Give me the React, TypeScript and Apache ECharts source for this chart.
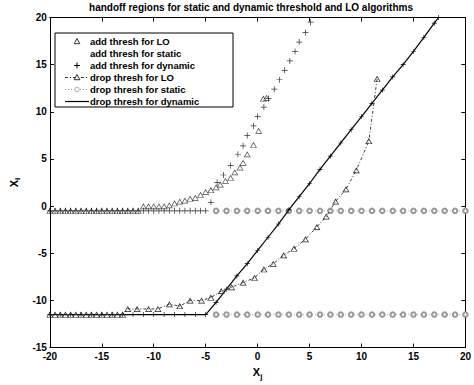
import React, { useEffect, useRef } from "react";
import * as echarts from "echarts";

const TITLE = "handoff regions for static and dynamic threshold and LO algorithms";
const X_TICKS = [-20, -15, -10, -5, 0, 5, 10, 15, 20];
const Y_TICKS = [-15, -10, -5, 0, 5, 10, 15, 20];
const LEGEND_LABELS = [
  "add thresh for LO",
  "add thresh for static",
  "add thresh for dynamic",
  "drop thresh for LO",
  "drop thresh for static",
  "drop thresh for dynamic",
];

const addLO: number[][] = [
  [-20, -0.5], [-19.5, -0.5], [-19, -0.5], [-18.5, -0.5], [-18, -0.5], [-17.5, -0.5],
  [-17, -0.5], [-16.5, -0.5], [-16, -0.5], [-15.5, -0.5], [-15, -0.5], [-14.5, -0.5],
  [-14, -0.5], [-13.5, -0.5], [-13, -0.5], [-12.5, -0.5], [-12, -0.5], [-11.5, -0.5],
  [-11, 0], [-10.5, 0], [-10, 0], [-9.5, 0], [-9, 0], [-8.5, 0.1], [-8, 0.3],
  [-7.5, 0.5], [-7, 0.6], [-6.5, 0.8], [-6, 0.9], [-5.5, 1.2], [-5, 1.5], [-4.5, 1.7],
  [-4, 2.0], [-3.6, 2.3], [-3.1, 2.7], [-2.6, 3.0], [-2.2, 3.6], [-1.7, 4.1],
  [-1.4, 4.6], [-1, 5.5], [-0.4, 6.5], [0.1, 8.0], [0.55, 11.4], [0.85, 11.5],
];

const addDynamic: number[][] = [
  [-20, -0.5], [-19.5, -0.5], [-19, -0.5], [-18.5, -0.5], [-18, -0.5], [-17.5, -0.5],
  [-17, -0.5], [-16.5, -0.5], [-16, -0.5], [-15.5, -0.5], [-15, -0.5], [-14.5, -0.5],
  [-14, -0.5], [-13.5, -0.5], [-13, -0.5], [-12.5, -0.5], [-12, -0.5], [-11.5, -0.5],
  [-11, -0.5], [-10.5, -0.5], [-10, -0.5], [-9.5, -0.5], [-9, -0.5], [-8.5, -0.5],
  [-8, -0.5], [-7.5, -0.5], [-7, -0.5], [-6.5, -0.5], [-6, -0.5], [-5.5, -0.5], [-5, -0.5],
  [-4.5, 0.4], [-3.9, 2.5], [-3.3, 3.3], [-2.6, 4.3], [-1.9, 5.5], [-1.4, 6.4],
  [-1, 7.5], [-0.4, 8.5], [0, 9.5], [0.6, 10.5], [1.05, 11.4], [1.6, 12.4], [2.1, 13.4],
  [2.6, 14.4], [3.1, 15.4], [3.6, 16.4], [4.0, 17.4], [4.6, 18.4], [5.1, 19.5],
];

const staticX = [-4, -3, -2, -1, 0, 1, 2, 3, 4, 5, 6, 7, 8, 9, 10, 11, 12, 13, 14, 15, 16, 17, 18, 19, 20];
const addStaticY = [-0.5, -0.5, -0.5, -0.5, -0.5, -0.5, -0.5, -0.5, -0.5, -0.5, -0.5, -0.5, -0.5, -0.5, -0.5, -0.5, -0.5, -0.5, -0.5, -0.5, -0.5, -0.5, -0.5, -0.5, -0.5];
const dropStaticY = [-11.5, -11.5, -11.5, -11.5, -11.5, -11.5, -11.5, -11.5, -11.5, -11.5, -11.5, -11.5, -11.5, -11.5, -11.5, -11.5, -11.5, -11.5, -11.5, -11.5, -11.5, -11.5, -11.5, -11.5, -11.5];

const dropLO: number[][] = [
  [-20, -11.5], [-19.5, -11.5], [-19, -11.5], [-18.5, -11.5], [-18, -11.5], [-17.5, -11.5],
  [-17, -11.5], [-16.5, -11.5], [-16, -11.5], [-15.5, -11.5], [-15, -11.5], [-14.5, -11.5],
  [-14, -11.5], [-13.5, -11.5], [-13, -11.5], [-12.5, -10.9], [-11.6, -10.9], [-10.5, -10.9],
  [-9.6, -10.9], [-8.5, -10.4], [-7.5, -10.6], [-6.5, -10], [-5.4, -10], [-4.5, -9.7],
  [-3.5, -9], [-2.5, -8.6], [-1.4, -8.1], [-0.3, -7.6], [0.6, -6.7], [1.5, -6.1],
  [2.5, -5.2], [3.5, -4.5], [4.6, -3.5], [5.7, -2.2], [6.6, -1.1], [7.5, 0.5],
  [8.5, 1.8], [9.5, 3.8], [10.7, 6.9], [11.5, 13.5],
];

const dropDynamic: number[][] = [
  [-20, -11.5], [-19, -11.5], [-18, -11.5], [-17, -11.5], [-16, -11.5], [-15, -11.5],
  [-14, -11.5], [-13, -11.5], [-12, -11.5], [-11, -11.5], [-10, -11.5], [-9, -11.5],
  [-8, -11.5], [-7, -11.5], [-6, -11.5], [-5, -11.5], [-4, -10.2], [-3, -8.8],
  [-2, -7.4], [-1, -6.1], [0, -4.7], [1, -3.3], [2, -1.9], [3, -0.4], [4, 1.0],
  [5, 2.4], [6, 3.9], [7, 5.3], [8, 6.7], [9, 8.1], [10, 9.5], [11, 10.9], [12, 12.3],
  [13, 13.7], [14, 15.0], [15, 16.4], [16, 17.9], [17, 19.4], [17.4, 20],
];

const PLUS = "path://M4.4,0h1.2v4.4h4.4v1.2h-4.4v4.4h-1.2v-4.4h-4.4v-1.2h4.4z";
const TRI = "path://M5,0L10,9L0,9Z M5,2.3L1.6,8L8.4,8Z";
const FONT = "'Liberation Sans', Arial, sans-serif";

export default function App() {
  const ref = useRef<HTMLDivElement>(null);
  useEffect(() => {
    if (!ref.current) return;
    const chart = echarts.init(ref.current, undefined, { renderer: "svg" });
    const L = 34, T = 17.5, W = 433, H = 335.5;
    const tickStyle = { fontFamily: FONT, fontWeight: "bold" as const, fontSize: 10, color: "#000" };
    const axisBase = {
      type: "value" as const,
      axisLine: { show: true, onZero: false, lineStyle: { color: "#000", width: 1 } },
      axisTick: { show: true, inside: true, length: 4, lineStyle: { color: "#000" } },
      splitLine: { show: false },
    };
    const lx = 55, ly = 33, lw = 178, lh = 74;
    const rowY = (i: number) => 41.5 + 12 * i;
    const legendGraphics: any[] = [
      { type: "rect", shape: { x: lx, y: ly, width: lw, height: lh }, style: { fill: "#fff", stroke: "#000", lineWidth: 1 }, z: 100 },
    ];
    LEGEND_LABELS.forEach((t, i) => {
      legendGraphics.push({
        type: "text", x: 90, y: rowY(i), z: 101,
        style: { text: t, fill: "#000", font: `bold 9.5px ${FONT}`, textVerticalAlign: "middle" },
      });
    });
    const tri = (cx: number, cy: number) => ({
      type: "polygon", z: 102,
      shape: { points: [[cx, cy - 3], [cx + 2.8, cy + 2.2], [cx - 2.8, cy + 2.2]] },
      style: { fill: "#fff", stroke: "#000", lineWidth: 0.8 },
    });
    legendGraphics.push(tri(77, rowY(0)));
    legendGraphics.push({ type: "line", z: 102, shape: { x1: 77, y1: rowY(2) - 3, x2: 77, y2: rowY(2) + 3 }, style: { stroke: "#000", lineWidth: 1 } });
    legendGraphics.push({ type: "line", z: 102, shape: { x1: 74, y1: rowY(2), x2: 80, y2: rowY(2) }, style: { stroke: "#000", lineWidth: 1 } });
    legendGraphics.push({ type: "line", z: 102, shape: { x1: 65, y1: rowY(3), x2: 89, y2: rowY(3) }, style: { stroke: "#333", lineWidth: 1, lineDash: [3, 2, 1, 2] } });
    legendGraphics.push(tri(77, rowY(3)));
    legendGraphics.push({ type: "line", z: 102, shape: { x1: 65, y1: rowY(4), x2: 89, y2: rowY(4) }, style: { stroke: "#999", lineWidth: 1, lineDash: [1, 2] } });
    legendGraphics.push({ type: "circle", z: 102, shape: { cx: 77, cy: rowY(4), r: 2.3 }, style: { fill: "#fff", stroke: "#999", lineWidth: 0.8 } });
    legendGraphics.push({ type: "line", z: 102, shape: { x1: 65, y1: rowY(5), x2: 89, y2: rowY(5) }, style: { stroke: "#000", lineWidth: 1.2 } });

    chart.setOption({
      animation: false,
      backgroundColor: "#fff",
      grid: { left: L, top: T, width: W, height: H, containLabel: false },
      graphic: [
        {
          type: "text", x: 251, y: 7, z: 100,
          style: { text: TITLE, fill: "#000", font: `bold 10px ${FONT}`, textAlign: "center", textVerticalAlign: "middle" },
        },
        ...legendGraphics,
      ],
      xAxis: [
        {
          ...axisBase, position: "bottom", min: -20, max: 20, interval: 5,
          axisLabel: { ...tickStyle, margin: 4, formatter: (v: number) => (X_TICKS.includes(v) ? String(v) : "") },
          name: "{a|X}{b|j}", nameLocation: "middle", nameGap: 16,
          nameTextStyle: { rich: { a: { fontFamily: FONT, fontWeight: "bold", fontSize: 11, color: "#000" }, b: { fontFamily: FONT, fontWeight: "bold", fontSize: 8, color: "#000", verticalAlign: "bottom", padding: [8, 0, 0, 0] } } },
        },
        { ...axisBase, position: "top", min: -20, max: 20, interval: 5, axisLabel: { show: false } },
      ],
      yAxis: [
        {
          ...axisBase, position: "left", min: -15, max: 20, interval: 5,
          axisLabel: { ...tickStyle, margin: 3, formatter: (v: number) => (Y_TICKS.includes(v) ? String(v) : "") },
          name: "{a|X}{b|i}", nameLocation: "middle", nameGap: 22, nameRotate: 90,
          nameTextStyle: { rich: { a: { fontFamily: FONT, fontWeight: "bold", fontSize: 11, color: "#000" }, b: { fontFamily: FONT, fontWeight: "bold", fontSize: 8, color: "#000", padding: [8, 0, 0, 0] } } },
        },
        { ...axisBase, position: "right", min: -15, max: 20, interval: 5, axisLabel: { show: false } },
      ],
      series: [
        {
          name: "drop thresh for static", type: "line", data: staticX.map((x, i) => [x, dropStaticY[i]]),
          symbol: "emptyCircle", symbolSize: 4.5, showSymbol: true,
          itemStyle: { color: "#999", borderWidth: 0.8 }, lineStyle: { color: "#aaa", width: 1, type: [1, 2] }, z: 2,
        },
        {
          name: "add thresh for static", type: "line", data: staticX.map((x, i) => [x, addStaticY[i]]),
          symbol: "emptyCircle", symbolSize: 4.5, showSymbol: true,
          itemStyle: { color: "#999", borderWidth: 0.8 }, lineStyle: { color: "#aaa", width: 1, type: [1, 2] }, z: 2,
        },
        {
          name: "drop thresh for dynamic", type: "line", data: dropDynamic,
          symbol: PLUS, symbolSize: 5, showSymbol: true,
          itemStyle: { color: "#000" }, lineStyle: { color: "#000", width: 1.2 }, z: 3,
        },
        {
          name: "drop thresh for LO", type: "line", data: dropLO,
          symbol: TRI, symbolSize: [7, 6], showSymbol: true,
          itemStyle: { color: "#222" }, lineStyle: { color: "#444", width: 1, type: [3, 2, 1, 2] }, z: 4,
        },
        {
          name: "add thresh for LO", type: "scatter", data: addLO,
          symbol: TRI, symbolSize: [7, 6],
          itemStyle: { color: "#222" }, z: 5,
        },
        {
          name: "add thresh for dynamic", type: "scatter", data: addDynamic,
          symbol: PLUS, symbolSize: 6,
          itemStyle: { color: "#000" }, z: 6,
        },
      ],
    });
    return () => chart.dispose();
  }, []);
  return <div ref={ref} style={{ position: "fixed", left: 0, top: 0, width: 474, height: 385 }} />;
}
